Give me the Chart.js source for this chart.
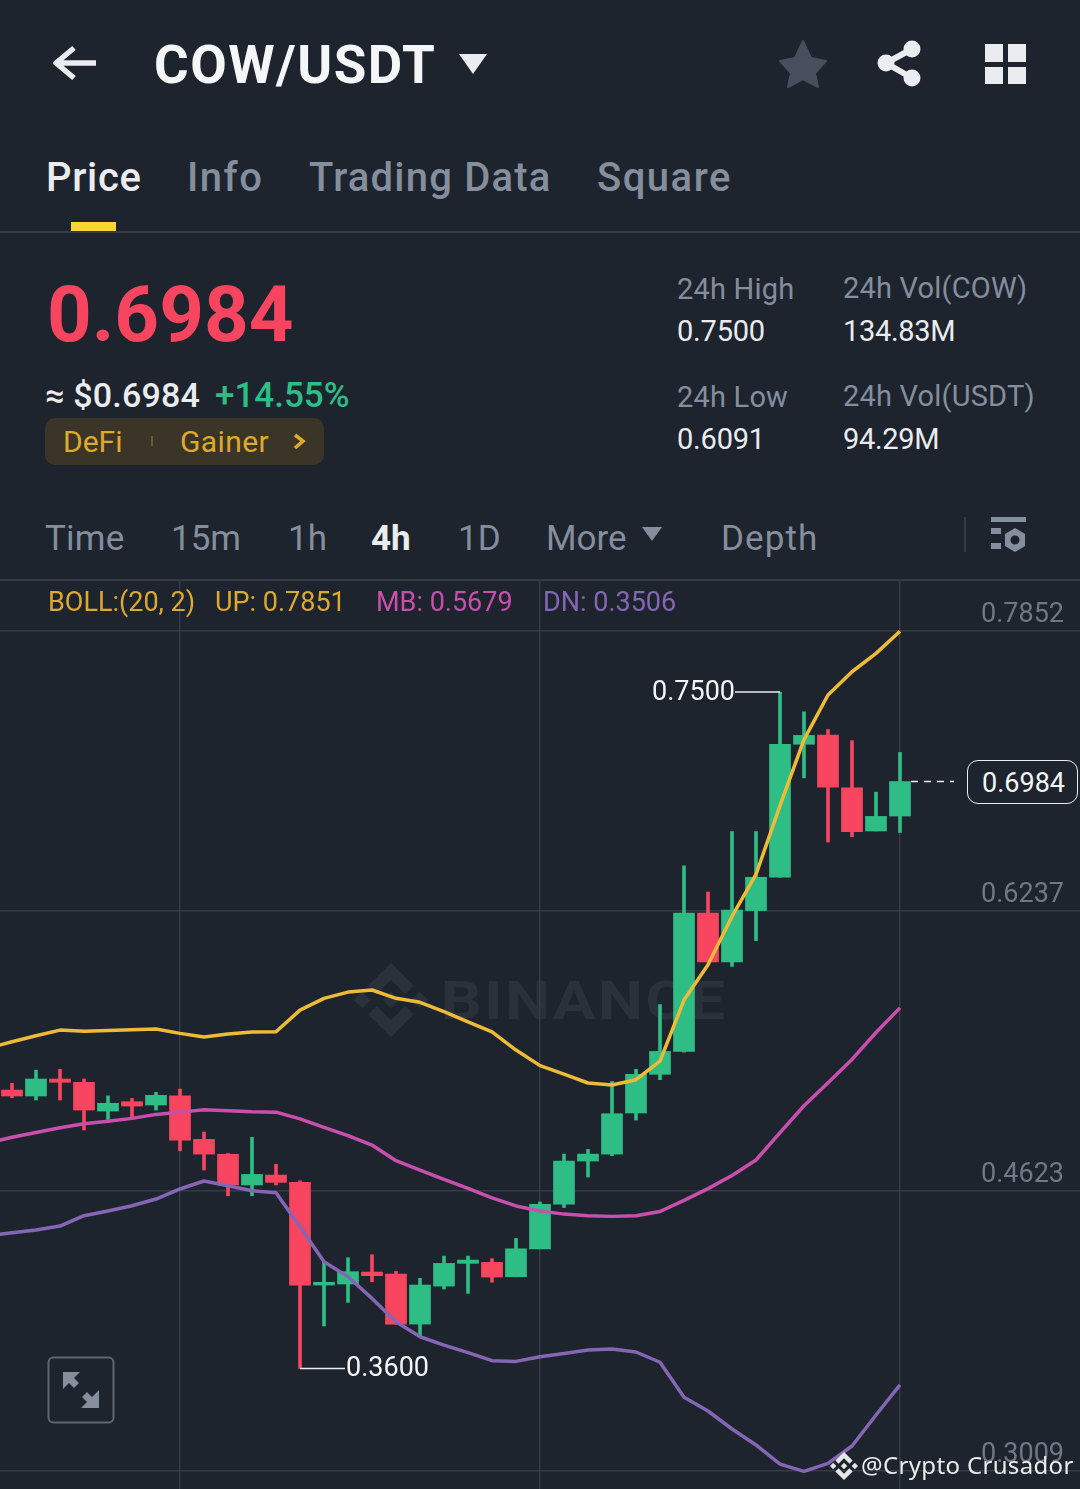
<!DOCTYPE html>
<html><head><meta charset="utf-8">
<script src="https://cdn.jsdelivr.net/npm/chart.js@4"></script>
<style>
html,body{margin:0;padding:0;background:#1E242E;width:1080px;height:1489px;overflow:hidden;font-family:Roboto,sans-serif}
.t{position:absolute;white-space:nowrap;line-height:1;transform:translateY(-50%)}
.abs{position:absolute}
canvas{position:absolute;left:0;top:581px;z-index:2}
</style></head><body>
<script>
// ---- chart data (prices) ----
const yTicks=[0.7852,0.6237,0.4623,0.3009];
const xGridAt=[7,22,37];
const candleIndex=[0,1,2,3,4,5,6,7,8,9,10,11,12,13,14,15,16,17,18,19,20,21,22,23,24,25,26,27,28,29,30,31,32,33,34,35,36,37];
const opens=[.5205,.5171,.5269,.5250,.5084,.5138,.5119,.5172,.4921,.4835,.4658,.4715,.4673,.4081,.4087,.4156,.4145,.3856,.4075,.4206,.4212,.4129,.4290,.4548,.4796,.4836,.5073,.5296,.5428,.6226,.5944,.6240,.6432,.7199,.7252,.6948,.6699,.6785];
const closes=[.5171,.5269,.5250,.5090,.5129,.5113,.5175,.4917,.4836,.4658,.4719,.4673,.4081,.4097,.4158,.4135,.3856,.4081,.4206,.4225,.4127,.4290,.4546,.4796,.4836,.5069,.5296,.5428,.6226,.5944,.6243,.6432,.7199,.7250,.6952,.6695,.6783,.6984];
const highs=[.5244,.5320,.5325,.5269,.5172,.5157,.5192,.5211,.4963,.4840,.4933,.4777,.4682,.4216,.4239,.4256,.4160,.4120,.4248,.4248,.4233,.4350,.4560,.4836,.4863,.5255,.5325,.5698,.6498,.6347,.6696,.6696,.7500,.7386,.7284,.7220,.6923,.7152];
const lows=[.5161,.5148,.5148,.4975,.5036,.5042,.5090,.4855,.4744,.4596,.4596,.4658,.3600,.3845,.3981,.4100,.3856,.3787,.4058,.4033,.4097,.4129,.4290,.4528,.4704,.4827,.5032,.5265,.5424,.5944,.5918,.6067,.6432,.7005,.6635,.6666,.6699,.6690];
const bandIndex=[-1,0,1,2,3,4,5,6,7,8,9,10,11,12,13,14,15,16,17,18,19,20,21,22,23,24,25,26,27,28,29,30,31,32,33,34,35,36,37];
const upper=[.5446,.5484,.5518,.5551,.5544,.5549,.5553,.5557,.5532,.5511,.5528,.5540,.5541,.5666,.5734,.5770,.5782,.5734,.5711,.5657,.5599,.5541,.5436,.5346,.5297,.5246,.5234,.5265,.5372,.5724,.5928,.6206,.6449,.6845,.7226,.7483,.7617,.7723,.7851];
const middle=[.4900,.4933,.4961,.4988,.5011,.5025,.5042,.5065,.5078,.5092,.5086,.5080,.5078,.5039,.4990,.4942,.4888,.4798,.4744,.4690,.4639,.4584,.4537,.4508,.4490,.4481,.4477,.4481,.4505,.4569,.4637,.4713,.4802,.4960,.5115,.5248,.5382,.5537,.5679];
const lower=[.4366,.4383,.4398,.4421,.4481,.4508,.4538,.4577,.4635,.4681,.4654,.4625,.4613,.4417,.4216,.4129,.4004,.3870,.3783,.3735,.3691,.3645,.3641,.3668,.3687,.3706,.3712,.3695,.3636,.3434,.3355,.3251,.3159,.3049,.3007,.3053,.3153,.3332,.3506];
const lastPrice=0.6984, peak={i:32,v:0.7500}, trough={i:12,v:0.3600};
const UPC='#2EBD85',DNC='#F8455F',GRID='#343B46',YEL='#EDBB37',MAG='#C94FAE',PUR='#8566B5',GREY='#848E9C',WHITE='#EAECEF';

// ---- page text ----
const texts=[
 ['COW/USDT',154,65,53,'#F5F6F7',700,1.5],
 ['Price',46,178,40,WHITE,500,.7],['Info',187,178,40,GREY,500,1.5],['Trading Data',309,178,40,GREY,500,1.2],['Square',597,178,40,GREY,500,1.5],
 ['0.6984',47,315,78,DNC,700,0],
 ['≈ $0.6984',45,395,34,WHITE,500,.2],['+14.55%',215,395,35,UPC,500,0],
 ['DeFi',63,442,30,'#DFA92B',400,0],['Gainer',180,442,30,'#DFA92B',400,.4],
 ['24h High',677,289,29,GREY,400,.2],['0.7500',677,331,29,WHITE,400,-.2],['24h Low',677,397,29,GREY,400,.2],['0.6091',677,439,29,WHITE,400,-.2],
 ['24h Vol(COW)',843,288,29,GREY,400,.2],['134.83M',843,331,29,WHITE,400,-.3],['24h Vol(USDT)',843,396,29,GREY,400,.2],['94.29M',843,439,29,WHITE,400,-.3],
 ['Time',45,538,35,GREY,400,.2],['15m',171,538,35,GREY,400,0],['1h',288,538,35,GREY,400,0],['4h',371,538,35,WHITE,700,0],['1D',458,538,35,GREY,400,0],['More',546,538,35,GREY,400,0],['Depth',721,538,35,GREY,400,1.1],
 ['BOLL:(20, 2)',48,602,27,'#DDA92F',400,0],['UP: 0.7851',215,602,27,'#DDA92F',400,0],['MB: 0.5679',376,602,27,MAG,400,0],['DN: 0.3506',543,602,27,PUR,400,0]
];
for(const [s,x,y,size,c,w,ls] of texts){
 const e=document.createElement('div');e.className='t';e.textContent=s;
 e.style.cssText=`left:${x}px;top:${y}px;font-size:${size}px;color:${c};font-weight:${w};letter-spacing:${ls}px;z-index:3`;
 document.body.appendChild(e);
}
const logo='<path d="M38.73 53.2l24.59-24.58 24.6 24.6 14.3-14.31L63.32 0 24.43 38.9z"/><path d="M0 63.31 14.3 49l14.31 14.31L14.3 77.61z"/><path d="M38.73 73.41l24.59 24.59 24.6-24.6 14.31 14.29-38.9 38.91-38.91-38.88z"/><path d="M98 63.31 112.3 49l14.31 14.3-14.31 14.32z"/><path d="M77.83 63.3L63.32 48.78 52.59 59.51l-1.24 1.23-2.54 2.54 14.51 14.5 14.51-14.52z"/>';
document.body.insertAdjacentHTML('beforeend',`
<svg class="abs" style="left:0;top:0;z-index:1" width="1080" height="581">
 <path d="M96 63H58M74 48L56 63L74 78" fill="none" stroke="${WHITE}" stroke-width="5.5" stroke-linejoin="round"/>
 <path d="M459 54H487L473 74Z" fill="${WHITE}"/>
 <path d="M803 41L811 58L826 61L815 73L818 87L803 79L788 87L791 73L780 61L795 58Z" fill="#474F5E" stroke="#474F5E" stroke-width="2" stroke-linejoin="round"/>
 <path d="M912 49L886 63L912 78" fill="none" stroke="${WHITE}" stroke-width="6"/>
 <circle cx="912" cy="49" r="8.5" fill="${WHITE}"/><circle cx="886" cy="63" r="8.5" fill="${WHITE}"/><circle cx="912" cy="78" r="8.5" fill="${WHITE}"/>
 <g fill="${WHITE}"><rect x="985" y="44" width="18" height="18"/><rect x="1008" y="44" width="18" height="18"/><rect x="985" y="67" width="18" height="17"/><rect x="1008" y="67" width="18" height="17"/></g>
 <rect x="71" y="222" width="45" height="9" fill="#FCD535"/>
 <rect x="0" y="231" width="1080" height="2" fill="#343B46"/>
 <rect x="45" y="418" width="279" height="47" rx="10" fill="#3A3527"/>
 <rect x="151" y="436" width="2" height="10" fill="#6B5B2E"/>
 <path d="M295 435L303 441L295 448" fill="none" stroke="#DFA92B" stroke-width="3.5"/>
 <path d="M642 527H662L652 541Z" fill="${GREY}"/>
 <rect x="964" y="517" width="2" height="35" fill="#343B46"/>
 <g fill="${GREY}"><rect x="991" y="517" width="35" height="5"/><rect x="991" y="528" width="10" height="6"/><rect x="991" y="543" width="10" height="6"/></g>
 <path d="M1015 528L1025 534V546L1015 552L1005 546V534Z" fill="${GREY}"/><circle cx="1015" cy="540" r="4.5" fill="#1E242E"/>
 <rect x="0" y="579" width="1080" height="2" fill="#343B46"/>
</svg>
<svg class="abs" style="left:354px;top:963px;z-index:1" width="74" height="74" viewBox="0 0 126.61 126.61" fill="#2B313B">${logo}</svg>
<div class="t" style="left:441px;top:1001px;font-size:53px;font-weight:700;letter-spacing:2px;color:#2B313B;z-index:1;transform-origin:left center;transform:translateY(-50%) scaleX(1.2)">BINANCE</div>
<div class="abs" style="left:967px;top:760px;width:109px;height:42px;border:1.5px solid #EAECEF;border-radius:11px;background:#1E242E;z-index:3"></div>
<div class="t" style="left:982px;top:783px;font-size:27px;color:#F5F6F7;z-index:4">0.6984</div>
<svg class="abs" style="left:47px;top:1356px;z-index:3" width="68" height="68">
 <rect x="1.5" y="1.5" width="65" height="65" rx="5" fill="#1E242E" stroke="#5E6673" stroke-width="2"/>
 <path d="M16 16H33L27 22L32 27L27 32L22 27L16 33Z M52 52H34L40 46L35 41L40 36L45 41L52 34Z" fill="${GREY}"/>
</svg>
<svg class="abs" style="left:830px;top:1452px;z-index:5" width="28" height="28" viewBox="0 0 126.61 126.61" fill="#E6E6E6">${logo}</svg>
<div class="t" style="left:861px;top:1465px;font-size:24px;color:#ECECEC;z-index:5;font-family:'Noto Sans',sans-serif;letter-spacing:.35px;">@Crypto Crusador</div>
<canvas id="c" width="1080" height="908"></canvas>`);

const pick=(i)=>closes[i]>=opens[i]?UPC:DNC;
const colors=candleIndex.map((_,i)=>pick(i));
const annotate={id:'annotate',afterDatasetsDraw(ch){
 const {ctx,scales:{x,y}}=ch;ctx.save();
 ctx.strokeStyle='#EAECEF';ctx.fillStyle='#F5F6F7';ctx.lineWidth=1.5;ctx.font='27px Roboto';ctx.textBaseline='middle';
 const px=x.getPixelForValue(peak.i),py=y.getPixelForValue(peak.v);
 ctx.beginPath();ctx.moveTo(px,py);ctx.lineTo(px-45,py);ctx.stroke();
 ctx.textAlign='right';ctx.fillText(peak.v.toFixed(4),px-45,py+1);
 const tx=x.getPixelForValue(trough.i),ty=y.getPixelForValue(trough.v);
 ctx.beginPath();ctx.moveTo(tx,ty);ctx.lineTo(tx+45,ty);ctx.stroke();
 ctx.textAlign='left';ctx.fillText(trough.v.toFixed(4),tx+46,ty+1);
 const lx=x.getPixelForValue(candleIndex[candleIndex.length-1]),ly=y.getPixelForValue(lastPrice);
 ctx.setLineDash([7,6]);ctx.beginPath();ctx.moveTo(lx+11,ly);ctx.lineTo(lx+54,ly);ctx.stroke();
 ctx.restore();
}};
const band=(arr,c)=>({type:'line',data:bandIndex.map((v,i)=>({x:v,y:arr[i]})),borderColor:c,borderWidth:3.5,pointRadius:0,tension:0,borderJoinStyle:'round',order:0});
new Chart(document.getElementById('c'),{
 data:{datasets:[
  band(upper,YEL),band(middle,MAG),band(lower,PUR),
  {type:'bar',data:candleIndex.map((v,i)=>({x:v,y:[opens[i],closes[i]]})),backgroundColor:colors,barThickness:21,grouped:false,order:1},
  {type:'bar',data:candleIndex.map((v,i)=>({x:v,y:[lows[i],highs[i]]})),backgroundColor:colors,barThickness:3,grouped:false,order:2}
 ]},
 options:{responsive:false,animation:false,devicePixelRatio:1,layout:{padding:0},
  plugins:{legend:{display:false},tooltip:{enabled:false}},
  scales:{
   x:{type:'linear',offset:false,min:-0.5,max:44.5,border:{display:false},
      grid:{offset:false,color:GRID,lineWidth:1.5,drawTicks:false},ticks:{display:false},
      afterBuildTicks(s){s.ticks=xGridAt.map(v=>({value:v}))}},
   y:{type:'linear',position:'right',min:0.29052,max:0.81402,border:{display:false},
      grid:{color:GRID,lineWidth:1.5,drawTicks:false},
      afterBuildTicks(s){s.ticks=yTicks.map(v=>({value:v}))},
      afterFit(s){s.width=0;s.paddingTop=0;s.paddingBottom=0},
      ticks:{mirror:true,padding:-16,autoSkip:false,color:'#6F7885',font:{family:'Roboto',size:27,lineHeight:31/27},callback:v=>[v.toFixed(4),'']}}
  }},
 plugins:[annotate]
});
</script>
</body></html>
